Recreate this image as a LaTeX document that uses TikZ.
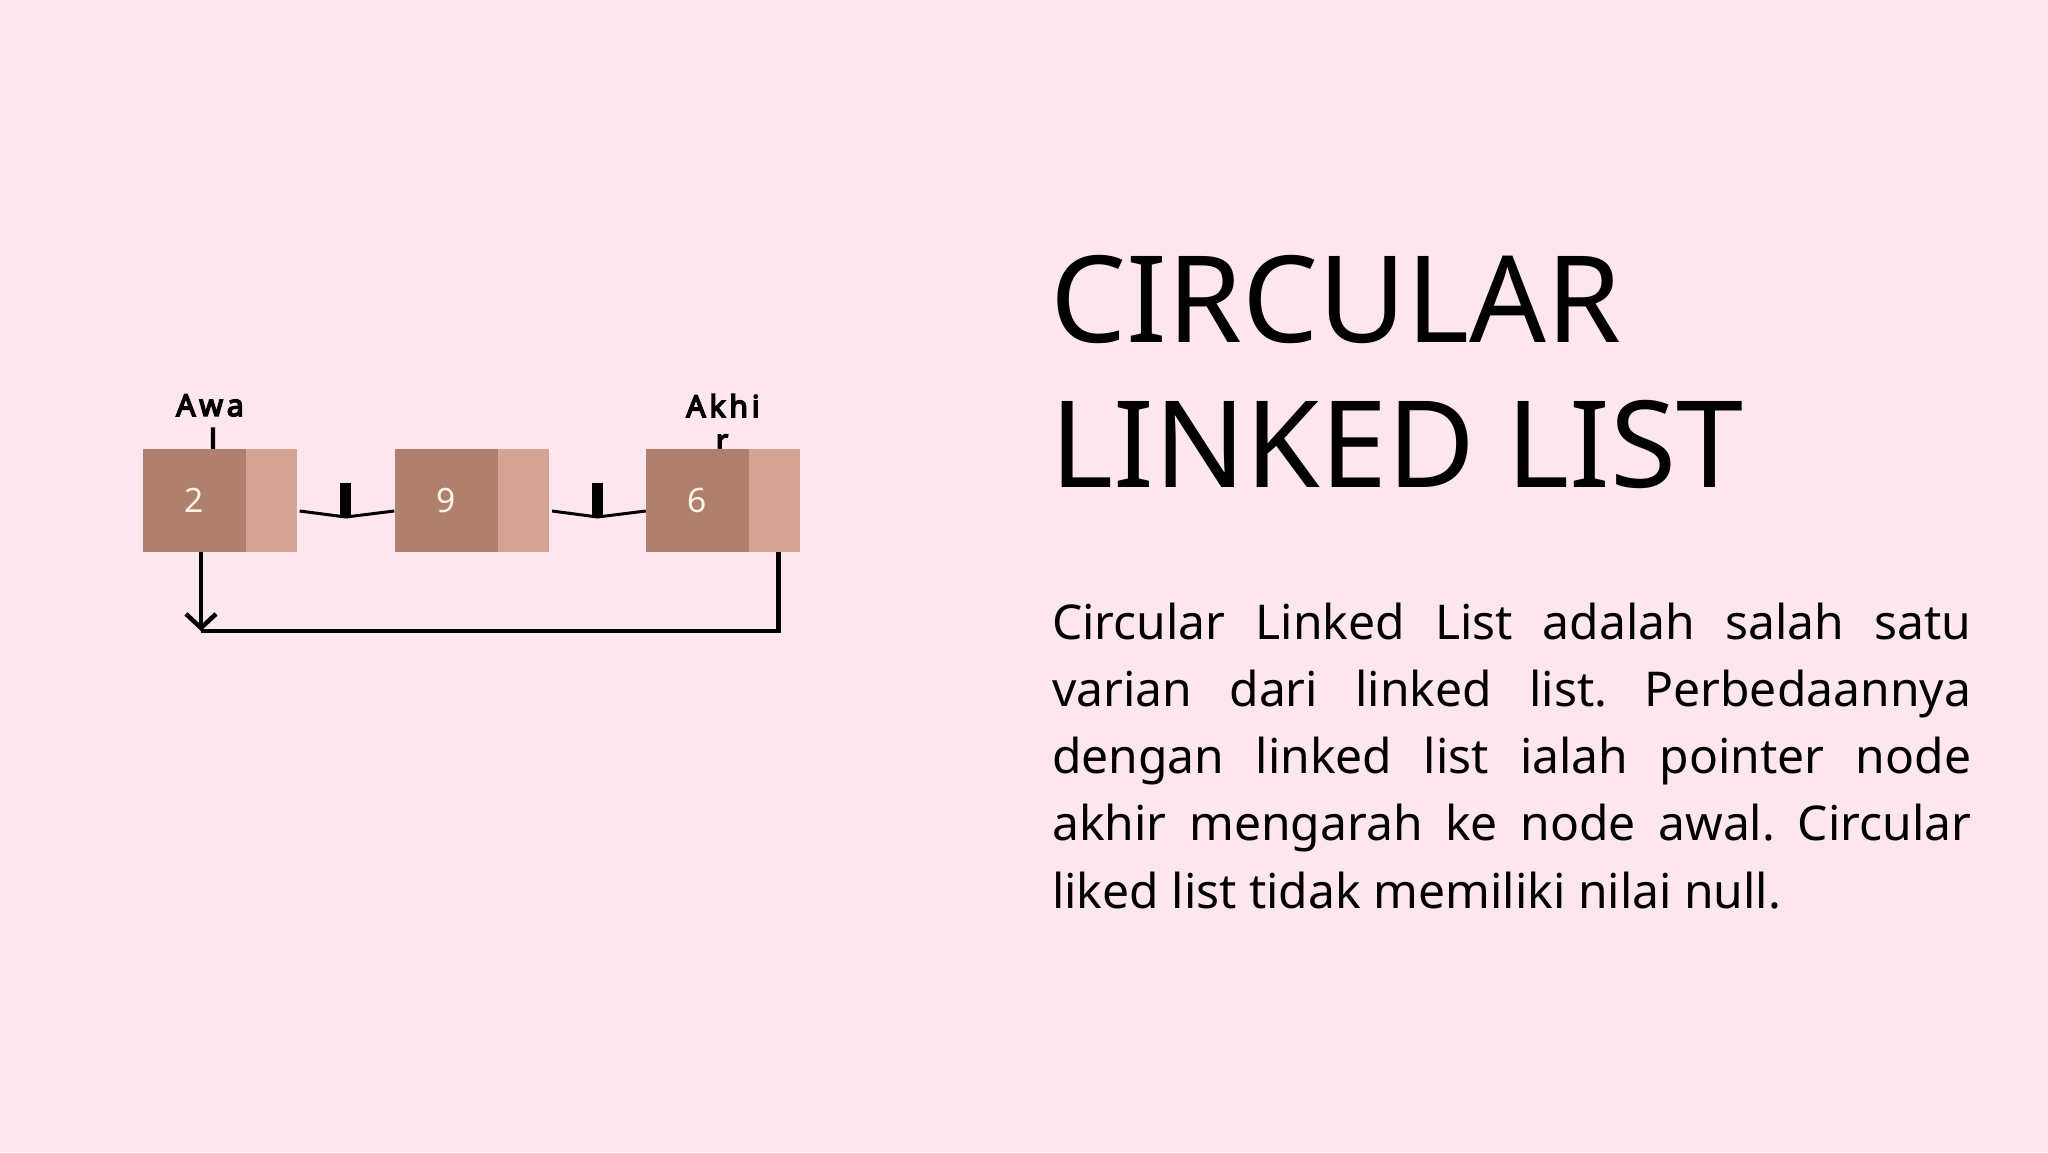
\documentclass[tikz,border=0pt]{standalone}
\usepackage{fontspec}
\setmainfont{Noto Sans}
\newfontfamily\titlefont{Noto Sans}
\newfontfamily\bodyfont{Noto Sans}
\newfontfamily\lblfont[LetterSpace=13, FakeBold=5]{Noto Sans}
\usetikzlibrary{arrows.meta,calc}
\definecolor{bg}{RGB}{253,230,238}
\definecolor{boxdark}{RGB}{176,128,110}
\definecolor{boxlight}{RGB}{212,165,150}
\definecolor{numcol}{RGB}{255,243,230}
\tikzset{
  datbox/.style={fill=boxdark, draw=none, minimum width=103pt, minimum height=103pt, inner sep=0pt,
    text=numcol, font=\fontsize{33.6}{40}\selectfont},
  ptrbox/.style={fill=boxlight, draw=none, minimum width=51pt, minimum height=103pt, inner sep=0pt, anchor=west},
  lbl/.style={inner sep=0pt, anchor=base, font=\lblfont\fontsize{30}{34}\selectfont},
  link/.style={draw=black, line width=3pt},
  barstyle/.style={draw=black, line width=11pt},
  loopline/.style={draw=black, line width=4.5pt},
}
\begin{document}
\begin{tikzpicture}[x=1pt,y=-1pt]
\useasboundingbox (0,0) rectangle (2048,1152);
\fill[bg] (0,0) rectangle (2048,1152);

% labels (drawn first so boxes cover their lower lines)
\node[lbl] (awa) at (210,416) {Awa};
\node[lbl] (awal) at (213,451) {l};
\node[lbl] (akhi) at (723,417) {Akhi};
\node[lbl] (akhir) at (722,451) {r};

% list nodes
\node[datbox] (n1d) at (194.5,500.5) {2};
\node[ptrbox] (n1p) at (n1d.east) {};
\node[datbox] (n2d) at (446,500.5) {9};
\node[ptrbox] (n2p) at (n2d.east) {};
\node[datbox] (n3d) at (697.5,500.5) {6};
\node[ptrbox] (n3p) at (n3d.east) {};

% links
\coordinate (m1) at ($(n1p.east)!0.5!(n2d.west)+(0,16.5)$);
\draw[link] ($(n1p.east)+(2,10.5)$) -- (m1) -- ($(n2d.west)+(0,10.5)$);
\draw[barstyle] (m1) -- ++(0,-34);
\coordinate (m2) at ($(n2p.east)!0.5!(n3d.west)+(0,16.5)$);
\draw[link] ($(n2p.east)+(3,10.5)$) -- (m2) -- ($(n3d.west)+(0,10.5)$);
\draw[barstyle] (m2) -- ++(0,-34);

% loop back
\coordinate (loopL) at (201,631);
\draw[loopline] ([xshift=3.5pt]n3p.south) |- (loopL);
\draw[loopline, -{Straight Barb[length=14pt,width=30pt]}] ([xshift=6.5pt]n1d.south) -- (loopL);

% title
\node[anchor=base west, inner sep=0pt, font=\titlefont\fontsize{120.5}{145}\selectfont] (title1) at (1050,342) {CIRCULAR};
\node[anchor=base west, inner sep=0pt, font=\titlefont\fontsize{120.5}{145}\selectfont] (title2) at (1050,487) {LINKED LIST};

% body
\node[anchor=base west, inner sep=0pt, text width=919pt, align=justify,
  font=\bodyfont\fontsize{48}{67.3}\selectfont] (body) at (1052,639)
  {\frenchspacing\hyphenpenalty=10000 \tolerance=10000
  Circular Linked List adalah salah satu\linebreak
  varian dari linked list. Perbedaannya\linebreak
  dengan linked list ialah pointer node\linebreak
  akhir mengarah ke node awal. Circular\linebreak
  liked list tidak memiliki nilai null.};
\end{tikzpicture}
\end{document}
